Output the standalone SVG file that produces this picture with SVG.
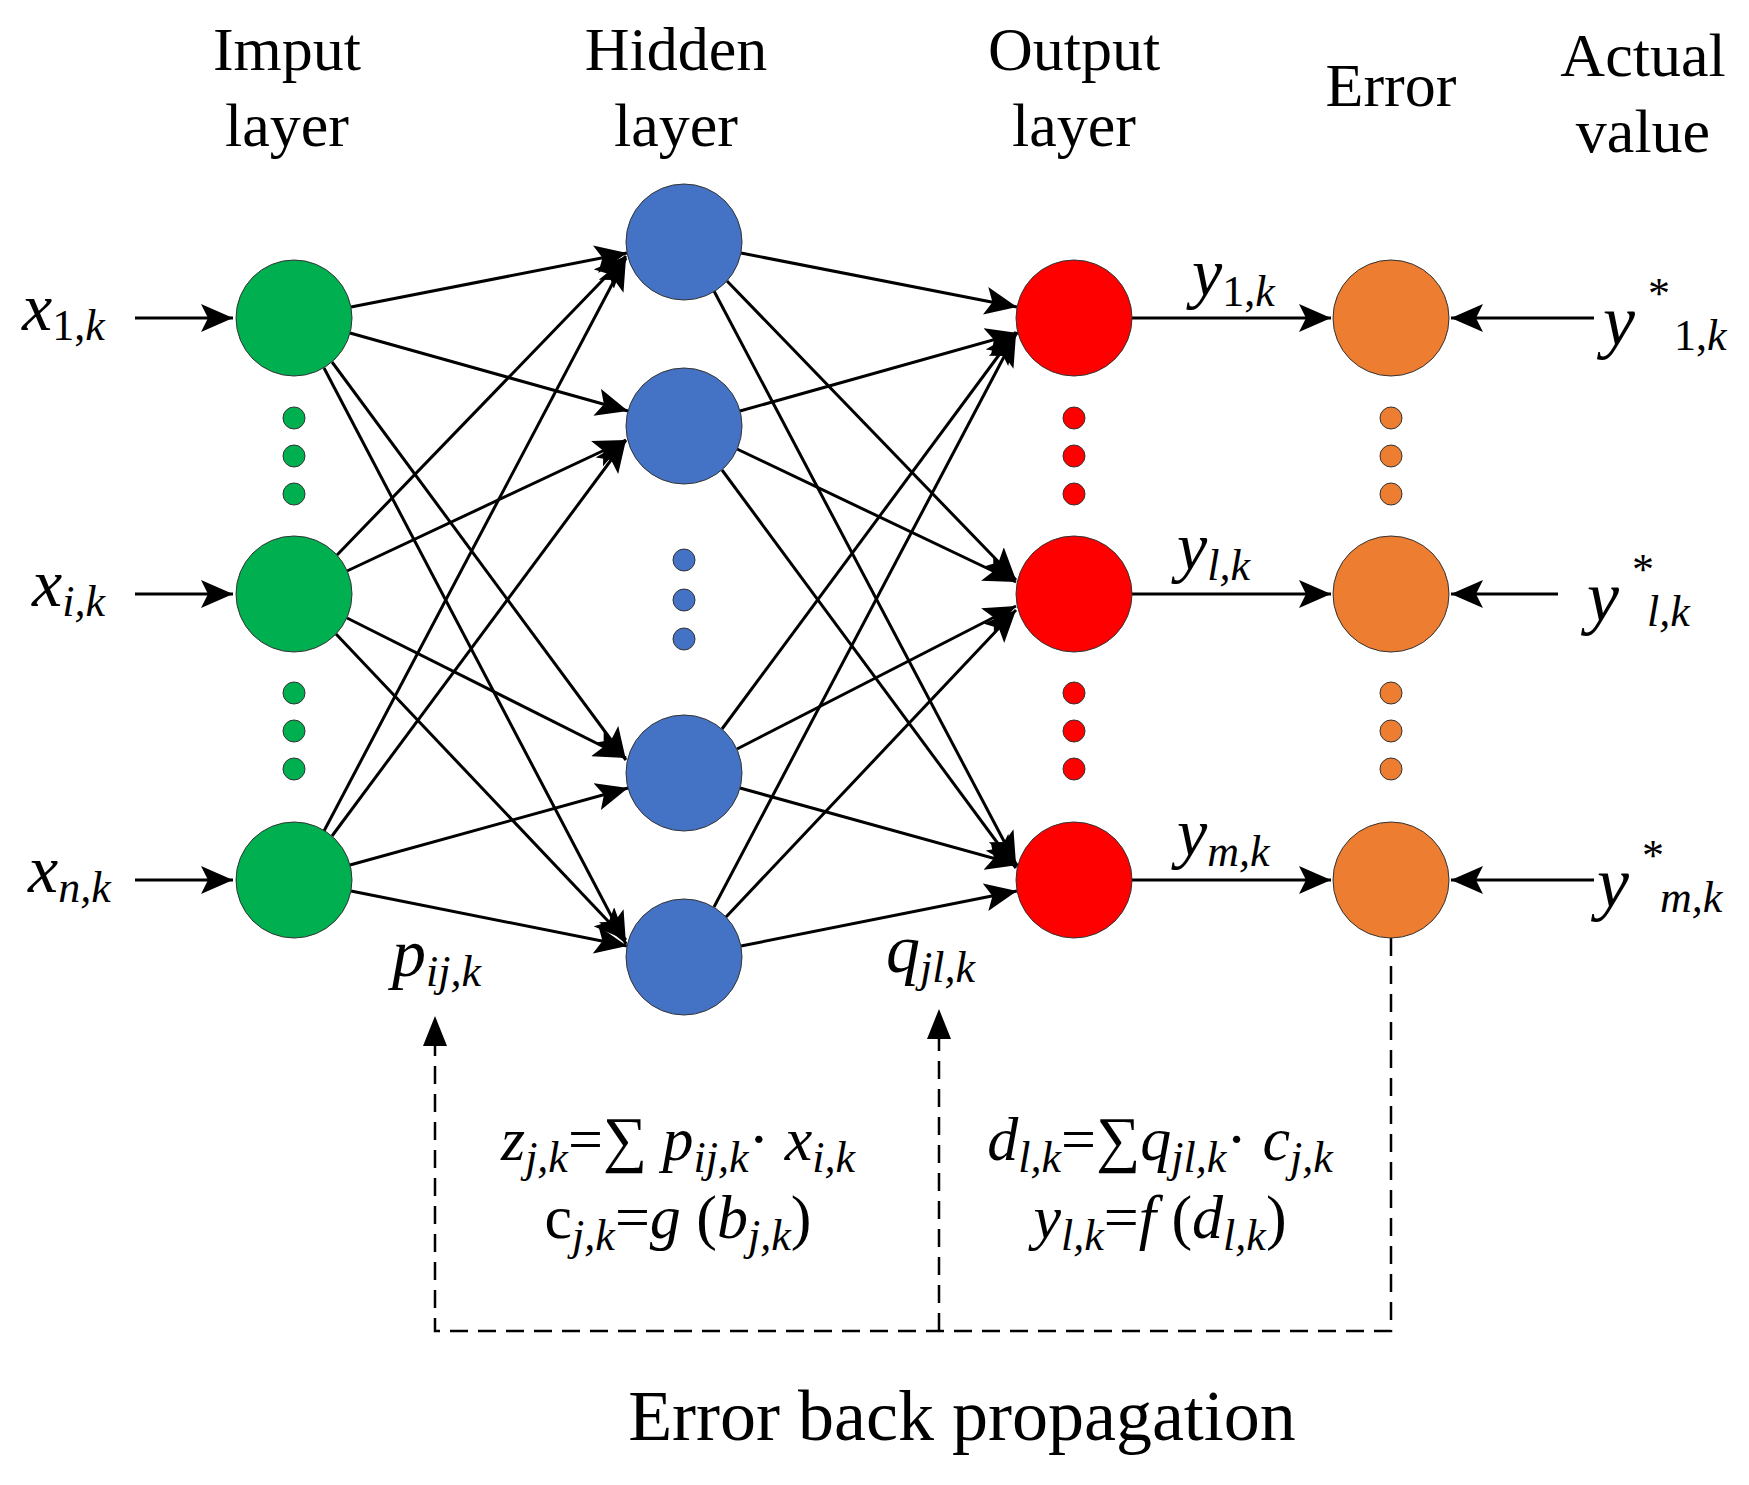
<svg xmlns="http://www.w3.org/2000/svg" width="1749" height="1485" viewBox="0 0 1749 1485">
<style>
.t{font-family:"Liberation Serif",serif;fill:#000}
.h{font-size:62px;text-anchor:middle}
.i{font-style:italic}
.s{font-size:44px;baseline-shift:-10px}
.f{font-size:44px;baseline-shift:-12px}
.e{stroke:#000;stroke-width:3;fill:none;marker-end:url(#a)}
.d{stroke:#000;stroke-width:2.5;fill:none;stroke-dasharray:18 10}
.g{fill:#00B050;stroke:#333;stroke-width:1}
.b{fill:#4472C4;stroke:#333;stroke-width:1}
.r{fill:#FF0000;stroke:#333;stroke-width:1}
.o{fill:#ED7D31;stroke:#333;stroke-width:1}
</style>
<defs>
<marker id="a" markerUnits="userSpaceOnUse" markerWidth="34" markerHeight="28" refX="32" refY="14" orient="auto"><path d="M0,0 L32,14 L0,28 L7,14 Z" fill="#000"/></marker>
</defs>
<rect width="1749" height="1485" fill="#fff"/>
<g id="headers" class="t h">
<text x="287" y="70">Imput</text><text x="287" y="146">layer</text>
<text x="676" y="70">Hidden</text><text x="676" y="146">layer</text>
<text x="1074" y="70">Output</text><text x="1074" y="146">layer</text>
<text x="1391" y="106">Error</text>
<text x="1643" y="76">Actual</text><text x="1643" y="152">value</text>
</g>
<g id="connectors">
<line class="e" x1="135" y1="318" x2="233" y2="318"/>
<line class="e" x1="135" y1="594" x2="233" y2="594"/>
<line class="e" x1="135" y1="880" x2="233" y2="880"/>
<line class="e" x1="351" y1="307" x2="627" y2="253"/>
<line class="e" x1="350" y1="333" x2="628" y2="411"/>
<line class="e" x1="332" y1="362" x2="626" y2="760"/>
<line class="e" x1="324" y1="368" x2="626" y2="944"/>
<line class="e" x1="337" y1="555" x2="626" y2="256"/>
<line class="e" x1="347" y1="571" x2="626" y2="440"/>
<line class="e" x1="347" y1="618" x2="626" y2="758"/>
<line class="e" x1="336" y1="634" x2="626" y2="940"/>
<line class="e" x1="324" y1="831" x2="626" y2="258"/>
<line class="e" x1="332" y1="836" x2="626" y2="440"/>
<line class="e" x1="350" y1="865" x2="628" y2="788"/>
<line class="e" x1="351" y1="891" x2="627" y2="946"/>
<line class="e" x1="741" y1="253" x2="1017" y2="307"/>
<line class="e" x1="727" y1="281" x2="1016" y2="580"/>
<line class="e" x1="714" y1="291" x2="1016" y2="864"/>
<line class="e" x1="740" y1="411" x2="1018" y2="333"/>
<line class="e" x1="737" y1="449" x2="1016" y2="582"/>
<line class="e" x1="722" y1="470" x2="1016" y2="868"/>
<line class="e" x1="722" y1="729" x2="1016" y2="332"/>
<line class="e" x1="737" y1="749" x2="1016" y2="606"/>
<line class="e" x1="740" y1="788" x2="1018" y2="865"/>
<line class="e" x1="714" y1="907" x2="1016" y2="334"/>
<line class="e" x1="726" y1="917" x2="1016" y2="610"/>
<line class="e" x1="741" y1="946" x2="1017" y2="891"/>
<line class="e" x1="1132" y1="318" x2="1331" y2="318"/>
<line class="e" x1="1132" y1="594" x2="1331" y2="594"/>
<line class="e" x1="1132" y1="880" x2="1331" y2="880"/>
<line class="e" x1="1594" y1="318" x2="1451" y2="318"/>
<line class="e" x1="1558" y1="594" x2="1451" y2="594"/>
<line class="e" x1="1594" y1="880" x2="1451" y2="880"/>
<path class="d" d="M1391,938 V1331 H435 V1040"/>
<path class="d" d="M939,1331 V1032"/>
<path d="M435,1016 L423,1046 L447,1046 Z" fill="#000"/>
<path d="M939,1009 L927,1039 L951,1039 Z" fill="#000"/>
</g>
<g id="input">
<circle class="g" cx="294" cy="318" r="58"/><circle class="g" cx="294" cy="594" r="58"/><circle class="g" cx="294" cy="880" r="58"/>
<circle class="g" cx="294" cy="418" r="11"/><circle class="g" cx="294" cy="456" r="11"/><circle class="g" cx="294" cy="494" r="11"/>
<circle class="g" cx="294" cy="693" r="11"/><circle class="g" cx="294" cy="731" r="11"/><circle class="g" cx="294" cy="769" r="11"/>
</g>
<g id="hidden">
<circle class="b" cx="684" cy="242" r="58"/><circle class="b" cx="684" cy="426" r="58"/><circle class="b" cx="684" cy="773" r="58"/><circle class="b" cx="684" cy="957" r="58"/>
<circle class="b" cx="684" cy="560" r="11"/><circle class="b" cx="684" cy="600" r="11"/><circle class="b" cx="684" cy="639" r="11"/>
</g>
<g id="output">
<circle class="r" cx="1074" cy="318" r="58"/><circle class="r" cx="1074" cy="594" r="58"/><circle class="r" cx="1074" cy="880" r="58"/>
<circle class="r" cx="1074" cy="418" r="11"/><circle class="r" cx="1074" cy="456" r="11"/><circle class="r" cx="1074" cy="494" r="11"/>
<circle class="r" cx="1074" cy="693" r="11"/><circle class="r" cx="1074" cy="731" r="11"/><circle class="r" cx="1074" cy="769" r="11"/>
</g>
<g id="error">
<circle class="o" cx="1391" cy="318" r="58"/><circle class="o" cx="1391" cy="594" r="58"/><circle class="o" cx="1391" cy="880" r="58"/>
<circle class="o" cx="1391" cy="418" r="11"/><circle class="o" cx="1391" cy="456" r="11"/><circle class="o" cx="1391" cy="494" r="11"/>
<circle class="o" cx="1391" cy="693" r="11"/><circle class="o" cx="1391" cy="731" r="11"/><circle class="o" cx="1391" cy="769" r="11"/>
</g>
<g id="labels" class="t" font-size="68">
<text x="22" y="330"><tspan class="i">x</tspan><tspan class="s">1,<tspan class="i">k</tspan></tspan></text>
<text x="32" y="606"><tspan class="i">x</tspan><tspan class="s i">i,k</tspan></text>
<text x="28" y="892"><tspan class="i">x</tspan><tspan class="s i">n,k</tspan></text>
<text x="392" y="976"><tspan class="i">p</tspan><tspan class="s i">ij,k</tspan></text>
<text x="886" y="972"><tspan class="i">q</tspan><tspan class="s i">jl,k</tspan></text>
<text x="1192" y="296"><tspan class="i">y</tspan><tspan class="s">1,<tspan class="i">k</tspan></tspan></text>
<text x="1177" y="570"><tspan class="i">y</tspan><tspan class="s i">l,k</tspan></text>
<text x="1177" y="856"><tspan class="i">y</tspan><tspan class="s i">m,k</tspan></text>
<text x="1603" y="345" class="i" font-size="72">y</text><text x="1648" y="308" font-size="44">*</text><text x="1674" y="350" font-size="44">1,<tspan class="i">k</tspan></text>
<text x="1587" y="621" class="i" font-size="72">y</text><text x="1632" y="584" font-size="44">*</text><text x="1647" y="626" font-size="44" class="i">l,k</text>
<text x="1597" y="907" class="i" font-size="72">y</text><text x="1642" y="870" font-size="44">*</text><text x="1660" y="912" font-size="44" class="i">m,k</text>
</g>
<g id="formulas" class="t" font-size="62" text-anchor="middle">
<text x="678" y="1160"><tspan class="i">z</tspan><tspan class="f i">j,k</tspan>=∑<tspan class="i"> p</tspan><tspan class="f i">ij,k</tspan>· <tspan class="i">x</tspan><tspan class="f i">i,k</tspan></text>
<text x="678" y="1238">c<tspan class="f i">j,k</tspan>=<tspan class="i">g</tspan> (<tspan class="i">b</tspan><tspan class="f i">j,k</tspan>)</text>
<text x="1160" y="1160"><tspan class="i">d</tspan><tspan class="f i">l,k</tspan>=∑<tspan class="i">q</tspan><tspan class="f i">jl,k</tspan>· <tspan class="i">c</tspan><tspan class="f i">j,k</tspan></text>
<text x="1160" y="1238"><tspan class="i">y</tspan><tspan class="f i">l,k</tspan>=<tspan class="i">f</tspan> (<tspan class="i">d</tspan><tspan class="f i">l,k</tspan>)</text>
</g>
<text class="t" x="962" y="1440" font-size="72" text-anchor="middle">Error back propagation</text>
</svg>
